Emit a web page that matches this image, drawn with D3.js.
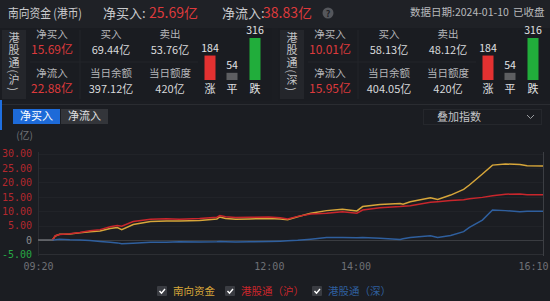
<!DOCTYPE html>
<html lang="zh">
<head>
<meta charset="UTF-8">
<script src="https://d3js.org/d3.v7.min.js"></script>
<style>
  body { margin: 0; background: #1b1d22; overflow: hidden; }
  svg { display: block; font-family: "Noto Sans CJK SC", "DejaVu Sans", sans-serif; }
</style>
</head>
<body>
<script>
// ---- data ----
const times = ["09:30","09:32","09:35","09:42","09:49","09:56","10:03","10:10","10:15","10:18",
  "10:26","10:38","10:49","10:58","11:12","11:24","11:26","11:30","11:37","11:47","12:00","13:00",
  "13:08","13:13","13:20","13:29","13:40","13:51","14:01","14:05","14:17","14:31","14:33","14:38",
  "14:52","14:57","15:06","15:15","15:19","15:28","15:35","15:44","15:54","15:59","16:10"];
const southbound = [0, 1.4, 2.0, 2.1, 2.5, 2.9, 3.1, 4.0, 4.3, 3.6,
  5.4, 6.4, 6.6, 6.6, 6.8, 7.3, 8.0, 7.5, 7.2, 7.3, 7.5, 7.5,
  7.3, 7.0, 8.1, 9.3, 10.2, 10.7, 10.1, 11.6, 12.3, 12.7, 12.4, 13.3,
  14.7, 14.1, 15.6, 17.6, 19.1, 22.9, 26.0, 26.4, 26.2, 25.8, 25.69];
const shanghai = [0, 1.5, 1.9, 2.2, 2.6, 3.2, 3.6, 4.6, 5.0, 4.8,
  6.4, 7.2, 7.4, 7.2, 7.5, 7.9, 8.5, 8.1, 7.8, 7.9, 8.0, 8.0,
  7.7, 7.3, 8.2, 9.0, 9.3, 9.8, 9.3, 10.4, 11.2, 11.6, 11.7, 11.9,
  13.1, 13.3, 13.7, 14.0, 14.3, 14.8, 15.4, 15.9, 16.0, 15.7, 15.69];
const shenzhen = [0, 0.1, 0.3, 0.1, 0, -0.2, -0.5, -0.8, -1.0, -1.3,
  -1.1, -0.8, -0.8, -0.6, -0.7, -0.6, -0.5, -0.6, -0.7, -0.6, -0.5, -0.5,
  -0.4, -0.3, -0.1, 0.3, 0.9, 0.9, 0.8, 0.9, 0.6, 0.2, 0.4, 0.9,
  1.5, 0.9, 1.6, 2.9, 4.4, 6.9, 10.4, 10.2, 9.8, 10.0, 10.01];
const preOpenTimes = ["09:20", "09:31"];
const preOpenValues = [0, 0];

const yTicks = [30, 25, 20, 15, 10, 5, 0, -5];
const xTicks = ["09:20", "12:00", "14:00", "16:10"];

const headerStats = { netBuy: "25.69亿", netFlow: "38.83亿", date: "数据日期:2024-01-10", status: "已收盘" };
const panels = [
  { name: "港股通(沪)", netBuy: "15.69亿", buy: "69.44亿", sell: "53.76亿",
    netFlow: "22.88亿", balance: "397.12亿", quota: "420亿", up: 184, flat: 54, down: 316 },
  { name: "港股通(深)", netBuy: "10.01亿", buy: "58.13亿", sell: "48.12亿",
    netFlow: "15.95亿", balance: "404.05亿", quota: "420亿", up: 184, flat: 54, down: 316 }
];
const seriesNames = ["南向资金", "港股通（沪）", "港股通（深）"];
const seriesColors = ["#d7a63a", "#c9262c", "#2f5f9e"];

// ---- setup ----
const width = 550, height = 301;
const svg = d3.select("body").append("svg").attr("width", width).attr("height", height);

const RED = "#dc3a3c", TXT = "#c9cacd";

// header bar
svg.append("rect").attr("width", width).attr("height", 28).attr("fill", "#1f2126");
svg.append("text").attr("x", 8).attr("y", 18).attr("font-size", 12.5).attr("fill", TXT)
  .attr("textLength", 74).attr("lengthAdjust", "spacingAndGlyphs").text("南向资金 (港币)");
svg.append("text").attr("x", 103).attr("y", 18).attr("font-size", 13).attr("fill", TXT).text("净买入:");
svg.append("text").attr("x", 149).attr("y", 18).attr("font-size", 14).attr("fill", RED).text(headerStats.netBuy);
svg.append("text").attr("x", 222).attr("y", 18).attr("font-size", 13).attr("fill", TXT).text("净流入:");
svg.append("text").attr("x", 263).attr("y", 18).attr("font-size", 14).attr("fill", RED).text(headerStats.netFlow);
svg.append("circle").attr("cx", 328).attr("cy", 13).attr("r", 5.5).attr("fill", "#55575c");
svg.append("text").attr("x", 328).attr("y", 16.5).attr("text-anchor", "middle").attr("font-size", 9)
  .attr("font-weight", "bold").attr("fill", "#1f2126").text("?");
svg.append("text").attr("x", 410).attr("y", 16).attr("font-size", 10.5).attr("fill", "#b8b9bc").text(headerStats.date);
svg.append("text").attr("x", 513).attr("y", 16).attr("font-size", 10.5).attr("fill", "#b8b9bc").text(headerStats.status);

// stat panels
const barScale = d3.scaleLinear().domain([0, 316]).range([0, 42]);
panels.forEach((p, i) => {
  const g = svg.append("g").attr("transform", `translate(${i * 278},0)`);
  g.append("rect").attr("x", 0).attr("y", 28).attr("width", 272).attr("height", 73).attr("fill", "#1a1c21");
  g.append("rect").attr("x", 2).attr("y", 30).attr("width", 24).attr("height", 69).attr("fill", "#24262b");
  g.append("text").attr("x", 14).attr("y", 32)
    .style("writing-mode", "vertical-rl").style("letter-spacing", "1.5px")
    .attr("font-size", 11).attr("fill", "#c4c5c8").text(p.name);
  // cell lines
  g.append("line").attr("x1", 30).attr("x2", 198).attr("y1", 62).attr("y2", 62).attr("stroke", "#23252a");
  g.append("line").attr("x1", 80).attr("x2", 80).attr("y1", 30).attr("y2", 99).attr("stroke", "#23252a");

  const cells = [
    { x: 52, l: "净买入", v: p.netBuy, c: RED, r: 0 },
    { x: 111, l: "买入", v: p.buy, c: "#d8d9db", r: 0 },
    { x: 170, l: "卖出", v: p.sell, c: "#d8d9db", r: 0 },
    { x: 52, l: "净流入", v: p.netFlow, c: RED, r: 1 },
    { x: 111, l: "当日余额", v: p.balance, c: "#d8d9db", r: 1 },
    { x: 170, l: "当日额度", v: p.quota, c: "#d8d9db", r: 1 }
  ];
  cells.forEach(c => {
    const y0 = c.r === 0 ? 37.5 : 76.5;
    g.append("text").attr("x", c.x).attr("y", y0).attr("text-anchor", "middle")
      .attr("font-size", 10.5).attr("fill", "#b5b6b9").text(c.l);
    g.append("text").attr("x", c.x).attr("y", y0 + 16.5).attr("text-anchor", "middle")
      .attr("font-size", c.c === RED ? 12 : 11).attr("fill", c.c).text(c.v);
  });

  const bars = [
    { x: 210, v: p.up, c: "#e33131", l: "涨" },
    { x: 232, v: p.flat, c: "#5d5e61", l: "平" },
    { x: 255, v: p.down, c: "#21ad3b", l: "跌" }
  ];
  bars.forEach(b => {
    const h = barScale(b.v);
    g.append("rect").attr("x", b.x - 5.5).attr("y", 80 - h).attr("width", 11).attr("height", h).attr("fill", b.c);
    g.append("text").attr("x", b.x).attr("y", 80 - h - 4).attr("text-anchor", "middle")
      .attr("font-size", 10.5).attr("fill", "#e2e3e5").text(b.v);
    g.append("text").attr("x", b.x).attr("y", 93).attr("text-anchor", "middle")
      .attr("font-size", 11).attr("fill", "#e2e3e5").text(b.l);
  });
});

// separator + tabs
svg.append("line").attr("x1", 0).attr("x2", width).attr("y1", 104.5).attr("y2", 104.5).attr("stroke", "#2a2c31");
svg.append("rect").attr("x", 0).attr("y", 100).attr("width", 2).attr("height", 30).attr("fill", "#1f6fe0");
svg.append("rect").attr("x", 13).attr("y", 109).attr("width", 47).attr("height", 15).attr("fill", "#1d6ad8");
svg.append("text").attr("x", 36.5).attr("y", 120).attr("text-anchor", "middle").attr("font-size", 11).attr("fill", "#ffffff").text("净买入");
svg.append("rect").attr("x", 61).attr("y", 109).attr("width", 47).attr("height", 15).attr("fill", "#33353a");
svg.append("text").attr("x", 84.5).attr("y", 120).attr("text-anchor", "middle").attr("font-size", 11).attr("fill", "#e0e1e3").text("净流入");
svg.append("rect").attr("x", 423.5).attr("y", 109.5).attr("width", 118).attr("height", 15)
  .attr("fill", "none").attr("stroke", "#25272c");
svg.append("text").attr("x", 437).attr("y", 120.5).attr("font-size", 11).attr("fill", "#c4c5c8").text("叠加指数");
svg.append("path").attr("d", "M527,115 L530.5,118.5 L534,115").attr("fill", "none").attr("stroke", "#9a9ca0").attr("stroke-width", 1);

// ---- chart ----
// minutes since 09:20, lunch break (12:00-13:00) removed
function tradeIndex(t) {
  const [h, m] = t.split(":").map(Number);
  const mins = h * 60 + m;
  return mins <= 720 ? mins - 560 : Math.max(160, mins - 620);
}
const x = d3.scaleLinear().domain([0, 350]).range([38, 543]);
const y = d3.scaleLinear().domain([-5, 30]).range([254.4, 153.6]);

svg.append("text").attr("x", 33).attr("y", 139).attr("text-anchor", "end").attr("font-size", 10).attr("fill", "#6f7176").text("(亿)");

const grid = svg.append("g");
grid.selectAll("line").data(yTicks).enter().append("line")
  .attr("x1", 38).attr("x2", 543)
  .attr("y1", d => Math.round(y(d)) + 0.5).attr("y2", d => Math.round(y(d)) + 0.5)
  .attr("stroke", d => d === 0 ? "#3a3c41" : (d === -5 ? "#2c2e33" : "#212328"));
svg.append("line").attr("x1", 38.5).attr("x2", 38.5).attr("y1", 152).attr("y2", 256).attr("stroke", "#2a2c31");
svg.append("line").attr("x1", 543.5).attr("x2", 543.5).attr("y1", 152).attr("y2", 256).attr("stroke", "#3c3e43");

const yAxis = d3.axisLeft(y).tickValues(yTicks).tickSize(0).tickPadding(0)
  .tickFormat(d => d === 0 ? "0" : d.toFixed(2));
const yg = svg.append("g").attr("transform", "translate(32,0)").call(yAxis);
yg.select(".domain").remove();
yg.selectAll("text").attr("font-size", 10).attr("font-family", "DejaVu Sans Mono, monospace")
  .attr("fill", d => d > 0 ? "#b3282e" : (d === 0 ? "#8a8b8f" : "#27a844"));

const xAxis = d3.axisBottom(x).tickValues(xTicks.map(tradeIndex)).tickSize(0).tickPadding(0)
  .tickFormat((d, i) => xTicks[i]);
const xg = svg.append("g").attr("transform", "translate(0,263)").call(xAxis);
xg.select(".domain").remove();
xg.selectAll("text").attr("font-size", 10).attr("font-family", "DejaVu Sans Mono, monospace").attr("fill", "#6f7176")
  .attr("text-anchor", (d, i) => i === xTicks.length - 1 ? "end" : "middle")
  .attr("dx", (d, i) => i === xTicks.length - 1 ? 5 : 0);

const line = d3.line().x(d => x(d[0])).y(d => y(d[1]));
svg.append("path").attr("d", line(preOpenTimes.map((t, i) => [tradeIndex(t), preOpenValues[i]])))
  .attr("fill", "none").attr("stroke", "#6e6f74").attr("stroke-width", 1.5);
[southbound, shanghai, shenzhen].forEach((s, k) => {
  svg.append("path").attr("d", line(times.map((t, i) => [tradeIndex(t), s[i]])))
    .attr("fill", "none").attr("stroke", seriesColors[k]).attr("stroke-width", 1.5);
});

// legend
const legendX = [157, 225, 312];
seriesNames.forEach((n, k) => {
  const g = svg.append("g").attr("transform", `translate(${legendX[k]},286)`);
  g.append("rect").attr("width", 10).attr("height", 10).attr("rx", 1).attr("fill", "#3a3c42");
  g.append("path").attr("d", "M2.5,5 L4.5,7.2 L8,3").attr("fill", "none").attr("stroke", "#ffffff").attr("stroke-width", 1.4);
  g.append("text").attr("x", 16).attr("y", 9).attr("font-size", 10.5).attr("fill", seriesColors[k]).text(n);
});
</script>
</body>
</html>
